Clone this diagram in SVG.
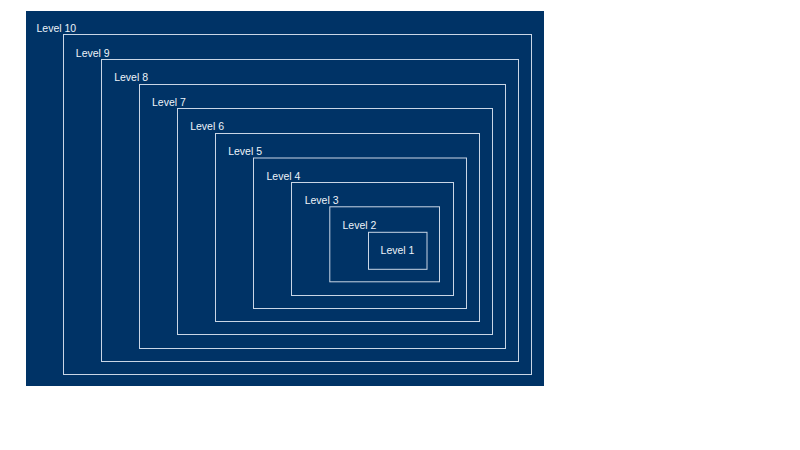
<svg xmlns="http://www.w3.org/2000/svg" width="800" height="450" viewBox="0 0 800 450">
<style>
.box{fill:none;stroke:#c9d6e6;stroke-width:1}
.lbl{font-family:"Liberation Sans",Arial,sans-serif;font-size:10.5px;fill:#eef3f9}
</style>
<rect width="800" height="450" fill="#ffffff"/>
<g id="level10">
<rect x="26" y="11" width="518" height="375" fill="#003366"/>
<text class="lbl" x="36.5" y="32">Level 10</text>
</g>
<g id="level9">
<rect class="box" x="63.5" y="34.5" width="468" height="340"/>
<text class="lbl" x="75.8" y="56.5">Level 9</text>
</g>
<g id="level8">
<rect class="box" x="101.5" y="59.5" width="417" height="302"/>
<text class="lbl" x="114.2" y="81">Level 8</text>
</g>
<g id="level7">
<rect class="box" x="139.5" y="84.5" width="366" height="264"/>
<text class="lbl" x="152" y="105.5">Level 7</text>
</g>
<g id="level6">
<rect class="box" x="177.5" y="108.5" width="315" height="226"/>
<text class="lbl" x="190.2" y="130">Level 6</text>
</g>
<g id="level5">
<rect class="box" x="215.5" y="133.5" width="264" height="188"/>
<text class="lbl" x="228.2" y="155">Level 5</text>
</g>
<g id="level4">
<rect class="box" x="253.5" y="158" width="213" height="150.5"/>
<text class="lbl" x="266.5" y="179.5">Level 4</text>
</g>
<g id="level3">
<rect class="box" x="291.5" y="182.5" width="162" height="113"/>
<text class="lbl" x="304.7" y="204">Level 3</text>
</g>
<g id="level2">
<rect class="box" x="329.8" y="206.8" width="109.7" height="75"/>
<text class="lbl" x="342.5" y="228.5">Level 2</text>
</g>
<g id="level1">
<rect class="box" x="368.5" y="232.3" width="58.5" height="37"/>
<text class="lbl" x="397.5" y="254.2" text-anchor="middle">Level 1</text>
</g>
<g id="connectors"/>
</svg>
